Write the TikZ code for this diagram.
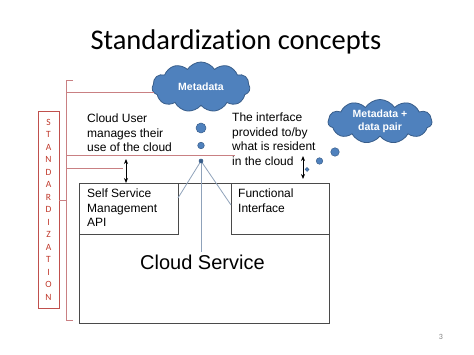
\documentclass[tikz,border=0pt]{standalone}
\usepackage{fontspec}
\setmainfont{Liberation Sans}
\newfontfamily\titlefont[Ligatures={NoCommon}]{Carlito}
\usetikzlibrary{shapes.symbols,arrows.meta}
\definecolor{cloudblue}{HTML}{4F81BD}
\definecolor{clouddark}{HTML}{385D8A}
\definecolor{brkred}{HTML}{C98083}
\definecolor{boxred}{HTML}{C0504D}
\definecolor{txtred}{HTML}{C0392B}
\definecolor{linkgray}{HTML}{8FA2BA}
\definecolor{boxgray}{HTML}{4A4A4A}
\tikzset{
  box/.style={draw=boxgray, line width=1.1pt, inner sep=0pt, anchor=north west},
  lbl/.style={inner sep=0pt, anchor=north west, align=left, font=\fontsize{12}{14.5}\selectfont},
  brk/.style={draw=brkred, line width=0.8pt},
  link/.style={draw=linkgray, line width=0.8pt},
  cloudnode/.style={cloud, cloud puffs=11, cloud puff arc=115, cloud ignores aspect,
     fill=cloudblue, draw=clouddark, line width=0.8pt, text=white, inner sep=0pt,
     font=\fontsize{10.5}{12.5}\selectfont\bfseries, align=center},
  dot/.style={circle, fill=cloudblue, draw=clouddark, line width=0.5pt, inner sep=0pt},
  dblarrow/.style={{Stealth[length=5pt,width=4pt]}-{Stealth[length=5pt,width=4pt]}, line width=0.9pt, black}
}
\begin{document}
\begin{tikzpicture}[x=1pt,y=-1pt]
\useasboundingbox (0,0) rectangle (474,355);
% title
\node[font=\titlefont\fontsize{28.5}{30}\selectfont, anchor=base, inner sep=0pt] (title) at (236,50) {Standardization concepts};
% boxes
\node[box, minimum width=250pt, minimum height=140pt] (cs) at (79,183) {};
\node[box, minimum width=99pt, minimum height=51pt] (ssm) at (79,183) {};
\node[box, minimum width=98pt, minimum height=51pt] (fi) at (231,183) {};
\node[font=\fontsize{20}{24}\selectfont, anchor=base west, inner sep=0pt] (cstext) at (140,270) {Cloud Service};
\node[lbl] (ssmtext) at (87,189) {Self Service\\Management\\API};
\node[lbl] (fitext) at (238,189) {Functional\\Interface};
\node[lbl] (cu) at (87,114) {Cloud User\\manages their\\use of the cloud};
\node[lbl] (ti) at (232,113) {The interface\\provided to/by\\what is resident\\in the cloud};
% standardization
\node[draw=boxred, line width=0.9pt, minimum width=21pt, minimum height=197pt, inner sep=0pt,
  text=txtred, align=center, font=\titlefont\fontsize{9.5}{12.5}\selectfont] (std) at (48.5,209.5)
  {S\\T\\A\\N\\D\\A\\R\\D\\I\\Z\\A\\T\\I\\O\\N};
% clouds
\node[cloudnode, minimum width=98pt, minimum height=50pt] (meta) at (201,87) {Metadata};
\node[cloudnode, minimum width=104pt, minimum height=44pt] (mdp) at (380,121.5) {Metadata +\\data pair};
% bracket
\coordinate (bt) at (66,80);
\coordinate (bb) at (66,320);
\coordinate (b1) at (66,92);
\coordinate (b1e) at (154,92);
\coordinate (b2) at (66,155);
\coordinate (b2e) at (235,155);
\coordinate (b3) at (66,168);
\coordinate (b3e) at (123,168);
\coordinate (bn) at (66,200);
\draw[brk] ([xshift=7pt]bt) -- (bt) -- (bb) -- ([xshift=7pt]bb);
\draw[brk] (b1) -- (b1e);
\draw[brk] (b2) -- (b2e);
\draw[brk] (b3) -- (b3e);
\draw[brk] (std.east |- bn) -- (bn);
% links
\coordinate (l1) at (178,198);
\coordinate (l2) at (231,205);
\coordinate (l3) at (201,252);
\node[dot, minimum size=10pt] (d1) at (201,128) {};
\node[dot, minimum size=6.6pt] (d2) at (201,145.5) {};
\coordinate (d3c) at (201,161);
\draw[link] (d3c) -- (l1);
\draw[link] (d3c) -- (l2);
\draw[link] (d3c) -- (l3);
\node[dot, fill=clouddark, minimum size=4pt] (d3) at (d3c) {};
\node[dot, minimum size=8.5pt] (e1) at (335,152) {};
\node[dot, minimum size=6.5pt] (e2) at (319.5,161) {};
\node[dot, minimum size=3.8pt] (e3) at (307,169.5) {};
% arrows
\coordinate (a1) at (126,159);
\coordinate (a2) at (303,156);
\coordinate (a2e) at (303,179);
\draw[dblarrow] (a1) -- (a1 |- ssm.north);
\draw[dblarrow] (a2) -- (a2e);
% page number
\node[font=\titlefont\fontsize{8}{9}\selectfont, text=gray, inner sep=0pt] (pg) at (441,337) {3};
\end{tikzpicture}
\end{document}
